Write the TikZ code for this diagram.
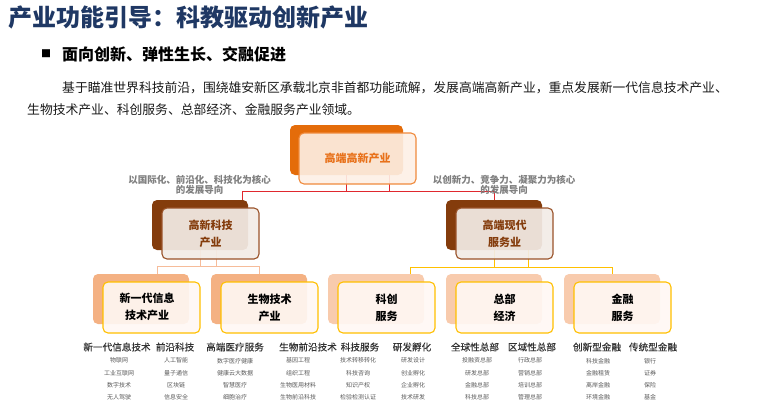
\documentclass[tikz,border=0pt]{standalone}
\usepackage{fontspec}
\setmainfont{Noto Sans CJK SC}
\newfontfamily\medfont[FakeBold=0.35]{Noto Sans CJK SC}
\usetikzlibrary{backgrounds}
\definecolor{navy}{HTML}{1F3864}
\definecolor{topor}{HTML}{E46C0A}
\definecolor{topbd}{HTML}{F08A3C}
\definecolor{topfill}{HTML}{FDF0E6}
\definecolor{toptext}{HTML}{E8711A}
\definecolor{redc}{HTML}{E0282E}
\definecolor{labgray}{HTML}{808080}
\definecolor{midbr}{HTML}{843C0C}
\definecolor{midbd}{HTML}{9A532A}
\definecolor{midfill}{HTML}{F3ECE7}
\definecolor{lorc}{HTML}{F6BC9A}
\definecolor{gold}{HTML}{FFC000}
\definecolor{botA}{HTML}{F4B183}
\definecolor{botB}{HTML}{F8CBAD}
\definecolor{botfill}{HTML}{FFF8F5}
\definecolor{cattext}{HTML}{333333}
\definecolor{itemtext}{HTML}{5A5A5A}
\begin{document}
\begin{tikzpicture}[x=1pt,y=-1pt,
  topback/.style={fill=topor, rounded corners=5pt, minimum width=113pt, minimum height=50pt, inner sep=0pt},
  topfront/.style={draw=topbd, line width=1.1pt, fill=topfill, fill opacity=0.9, text opacity=1, rounded corners=5pt, minimum width=117pt, minimum height=51pt, inner sep=0pt, font={\bfseries\fontsize{11pt}{17pt}\selectfont}, text=toptext, align=center},
  midback/.style={fill=midbr, rounded corners=5pt, minimum width=96pt, minimum height=50pt, inner sep=0pt},
  midfront/.style={draw=midbd, line width=1.1pt, fill=midfill, fill opacity=0.92, text opacity=1, rounded corners=5pt, minimum width=97pt, minimum height=51pt, inner sep=0pt, font={\bfseries\fontsize{11pt}{17pt}\selectfont}, text=midbr, align=center},
  botback/.style={fill=#1, rounded corners=5pt, minimum width=96pt, minimum height=50pt, inner sep=0pt},
  botfront/.style={draw=gold, line width=1.1pt, fill=botfill, fill opacity=0.9, text opacity=1, rounded corners=5pt, minimum width=97pt, minimum height=51pt, inner sep=0pt, font={\bfseries\fontsize{11pt}{17pt}\selectfont}, text=black, align=center},
  redl/.style={draw=redc, line width=1pt},
  lol/.style={draw=lorc, line width=1pt},
  gol/.style={draw=gold, line width=1pt},
  orient/.style={font={\bfseries\fontsize{9.5pt}{10.2pt}\selectfont}, text=labgray, align=center, inner sep=0pt},
  cattitle/.style={font={\medfont\fontsize{9.6pt}{11pt}\selectfont}, text=cattext, inner sep=0pt},
  catitems/.style={font={\fontsize{6pt}{12.2pt}\selectfont}, text=itemtext, align=center, inner sep=0pt}
]
\useasboundingbox (0,0) rectangle (760,408);

% headings
\node[anchor=west, inner sep=0pt, font={\bfseries\fontsize{24pt}{28pt}\selectfont}, text=navy] (title) at (8,17) {产业功能引导：科教驱动创新产业};
\node[inner sep=0pt, font={\fontsize{10pt}{12pt}\selectfont}] (bullet) at (46,54) {■};
\node[anchor=west, inner sep=0pt, font={\bfseries\fontsize{16pt}{18pt}\selectfont}] (sub) at (62,54) {面向创新、弹性生长、交融促进};
\node[anchor=west, inner sep=0pt, font={\fontsize{12.8pt}{15pt}\selectfont}, text=black!90] (para1) at (62,88) {基于瞄准世界科技前沿，围绕雄安新区承载北京非首都功能疏解，发展高端高新产业，重点发展新一代信息技术产业、};
\node[anchor=west, inner sep=0pt, font={\fontsize{12.8pt}{15pt}\selectfont}, text=black!90] (para2) at (27,110) {生物技术产业、科创服务、总部经济、金融服务产业领域。};

% top box
\node[topback] (topB) at (346.5,150) {};
\node[topfront] (topF) at (357.5,158.5) {高端高新产业};

% orientation labels
\node[orient] (labL) at (199.5,184.5) {以国际化、前沿化、科技化为核心\\的发展导向};
\node[orient] (labR) at (504,184.5) {以创新力、竞争力、凝聚力为核心\\的发展导向};

% middle boxes
\node[midback] (hiB) at (200,225) {};
\node[midfront] (hiF) at (210.5,233.5) {高新科技\\产业};
\node[midback] (svB) at (494,225) {};
\node[midfront] (svF) at (504.5,233.5) {高端现代\\服务业};

% bottom boxes
\node[botback=botA] (b1B) at (141,299) {};
\node[botfront] (b1F) at (151.5,307.5) {};
\node[font={\bfseries\fontsize{11pt}{17pt}\selectfont}, align=center, inner sep=0pt] (b1T) at (147,306.5) {新一代信息\\技术产业};
\node[botback=botA] (b2B) at (259,299) {};
\node[botfront] (b2F) at (269.5,307.5) {生物技术\\产业};
\node[botback=botB] (b3B) at (376,299) {};
\node[botfront] (b3F) at (386.5,307.5) {科创\\服务};
\node[botback=botB] (b4B) at (494,299) {};
\node[botfront] (b4F) at (504.5,307.5) {总部\\经济};
\node[botback=botB] (b5B) at (612,299) {};
\node[botfront] (b5F) at (622.5,307.5) {金融\\服务};

% connectors
\begin{pgfonlayer}{background}
\fill[white] (0,0) rectangle (760,408);
\draw[redl] (topB.south) -- ++(0,16) coordinate (rj);
\draw[redl] ([xshift=42.5pt]topB.south) -- ++(0,16);
\draw[redl] ([xshift=42pt]hiB.north) |- (rj) -| (svB.north);
\draw[lol] (hiB.south) -- ++(0,16) coordinate (lj);
\draw[lol] ([xshift=16pt]hiB.south) -- ++(0,16);
\draw[lol] ([xshift=16pt]b1B.north) |- (lj) -| (b2B.north);
\draw[gol] (svB.south) -- ++(0,17) coordinate (yj);
\draw[gol] ([xshift=34pt]svB.south) -- ++(0,17);
\draw[gol] ([xshift=34pt]b3B.north) |- (yj) -| (b5B.north);
\end{pgfonlayer}

% categories
\foreach \i/\x/\xs/\t/\s in {
  1/117/119/新一代信息技术/{物联网\\工业互联网\\数字技术\\无人驾驶},
  2/175/176/前沿科技/{人工智能\\量子通信\\区块链\\信息安全},
  3/235/235/高端医疗服务/{数字医疗健康\\健康云大数据\\智慧医疗\\细胞治疗},
  4/308/298/生物前沿技术/{基因工程\\组织工程\\生物医用材料\\生物前沿科技},
  5/360/358/科技服务/{技术转移转化\\科技咨询\\知识产权\\检验检测认证},
  6/412/413/研发孵化/{研发设计\\创业孵化\\企业孵化\\技术研发},
  7/475/477/全球性总部/{投融资总部\\研发总部\\金融总部\\科技总部},
  8/532/530/区域性总部/{行政总部\\营销总部\\培训总部\\管理总部},
  9/597/598/创新型金融/{科技金融\\金融租赁\\离岸金融\\环境金融},
  10/653/650/传统型金融/{银行\\证券\\保险\\基金}} {
  \node[cattitle] (t\i) at (\x,347) {\t};
  \node[catitems] (s\i) at (\xs,379) {\s};
}
\end{tikzpicture}
\end{document}
